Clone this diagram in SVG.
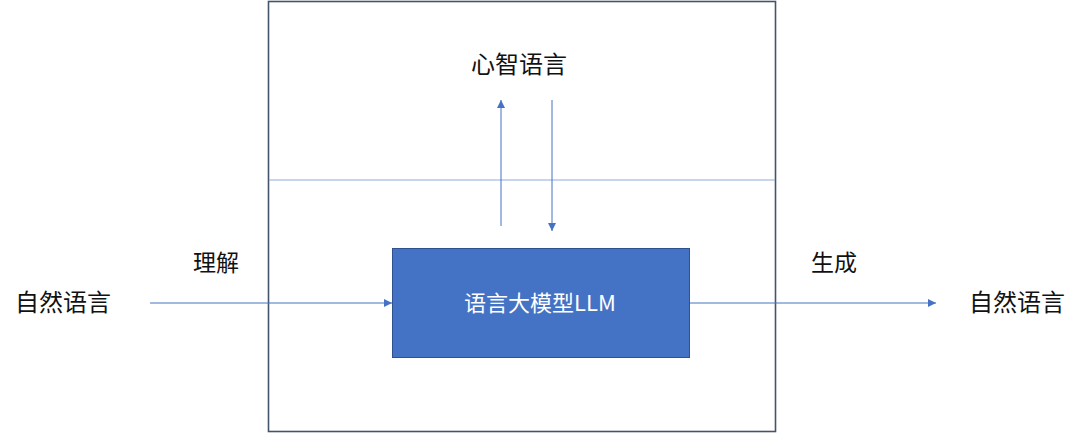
<svg xmlns="http://www.w3.org/2000/svg" width="1080" height="434" viewBox="0 0 1080 434">
<style>
.t{font-family:"Noto Sans CJK SC","Noto Sans",sans-serif;fill:#111;}
.c{stroke:#4472c4;stroke-width:1;fill:none;marker-end:url(#ah);}
</style>
<defs>
<marker id="ah" viewBox="0 0 10 10" refX="10" refY="5" markerWidth="8" markerHeight="8" markerUnits="userSpaceOnUse" orient="auto">
<path d="M0,0 L10,5 L0,10 z" fill="#4472c4"/>
</marker>
</defs>
<rect width="1080" height="434" fill="#fff"/>
<g id="frame">
<rect x="268.5" y="1.5" width="507" height="430" fill="none" stroke="#44546a" stroke-width="1.6"/>
<line x1="269" y1="180" x2="775" y2="180" stroke="#8faadc" stroke-width="1"/>
</g>
<g id="mind">
<text class="t" x="519" y="73" font-size="24" text-anchor="middle">心智语言</text>
</g>
<g id="llm">
<rect x="392.5" y="248.5" width="297" height="109" fill="#4472c4" stroke="#2f528f" stroke-width="1"/>
<text class="t" x="540" y="311" font-size="22" text-anchor="middle" style="fill:#fff">语言大模型LLM</text>
</g>
<g id="input">
<text class="t" x="63" y="311" font-size="24" text-anchor="middle">自然语言</text>
</g>
<g id="output">
<text class="t" x="1017" y="311" font-size="24" text-anchor="middle">自然语言</text>
</g>
<g id="labels">
<text class="t" x="216" y="271" font-size="23" text-anchor="middle">理解</text>
<text class="t" x="834" y="271" font-size="23" text-anchor="middle">生成</text>
</g>
<g id="connectors">
<line class="c" x1="501" y1="226" x2="501" y2="100"/>
<line class="c" x1="552" y1="100" x2="552" y2="231"/>
<line class="c" x1="150" y1="303" x2="392" y2="303"/>
<line class="c" x1="690" y1="303" x2="936" y2="303"/>
</g>
</svg>
